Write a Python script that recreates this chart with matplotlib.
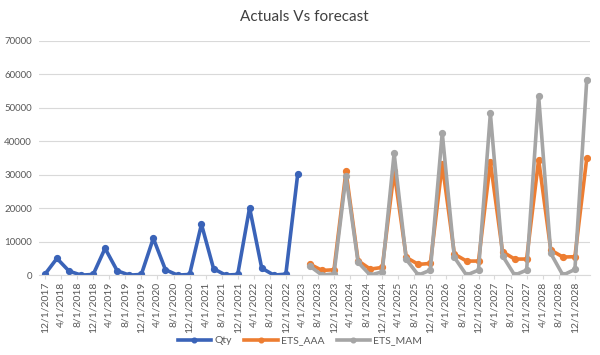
import matplotlib
matplotlib.use("Agg")
import matplotlib.pyplot as plt
import matplotlib.dates as mdates
import matplotlib.ticker as mticker
import pandas as pd

# actuals, quarterly from Dec 2017 to Mar 2023
qty_dates = pd.date_range("2017-12-01", "2023-03-01", freq="3MS")
qty = [300, 5000, 1200, 0, 200, 8000, 1300, 0, 200, 11000, 1600, 0,
       200, 15200, 1900, 0, 200, 20100, 2100, 0, 300, 30200]

# forecasts, quarterly from Jun 2023 to Mar 2029
fc_dates = pd.date_range("2023-06-01", "2029-03-01", freq="3MS")
ets_aaa = [3300, 1400, 1600, 31000, 4300, 1800, 2300, 31000, 5300, 3200, 3500, 33100,
           6300, 4200, 4200, 33800, 7000, 4800, 4800, 34500, 7500, 5400, 5500, 35000]
ets_mam = [2700, 0, 400, 29500, 3800, 0, 1000, 36400, 4700, 0, 1500, 42500,
           5300, 0, 1500, 48300, 5800, 0, 1500, 53500, 6500, 0, 1700, 58400]

tick_dates = pd.date_range("2017-12-01", "2028-12-01", freq="4MS")

plt.rcParams['font.family'] = ['Lato', 'DejaVu Sans']

fig = plt.figure(figsize=(6, 3.55), dpi=100)
ax = fig.add_axes([0.065, 0.225, 0.918, 0.66])

ax.plot(qty_dates, qty, color="#3A63B8", lw=2.6, marker="o", ms=4.2, label="Qty")
ax.plot(fc_dates, ets_aaa, color="#ED7D31", lw=2.6, marker="o", ms=4.2, label="ETS_AAA")
ax.plot(fc_dates, ets_mam, color="#A5A5A5", lw=2.6, marker="o", ms=4.2, label="ETS_MAM")

ax.set_ylim(0, 70000)
ax.yaxis.set_major_locator(mticker.MultipleLocator(10000))
ax.set_xlim(pd.Timestamp("2017-10-16"), pd.Timestamp("2029-03-24"))
ax.set_xticks(tick_dates)
ax.xaxis.set_major_formatter(mticker.FuncFormatter(
    lambda v, p: (lambda d: f"{d.month}/{d.day}/{d.year}")(mdates.num2date(v))))

ax.grid(axis="y", color="#D9D9D9", lw=0.8)
ax.set_axisbelow(True)
for s in ["top", "right", "left"]:
    ax.spines[s].set_visible(False)
ax.spines["bottom"].set_color("#D9D9D9")
ax.tick_params(axis="x", colors="#D9D9D9", length=3, labelcolor="#595959",
               labelsize=7.5, labelrotation=90, pad=2)
ax.tick_params(axis="y", length=0, labelcolor="#595959", labelsize=7, pad=5)

fig.text(0.508, 0.952, "Actuals Vs forecast", ha="center", va="center",
         fontsize=11, color="#404040")
fig.legend(loc="center", bbox_to_anchor=(0.5, 0.04), ncol=3, frameon=False,
           fontsize=7.5, labelcolor="#595959", handlelength=3.2,
           columnspacing=1.2, handletextpad=0.3, markerscale=0.8)

fig.savefig("out.png", dpi=100)
